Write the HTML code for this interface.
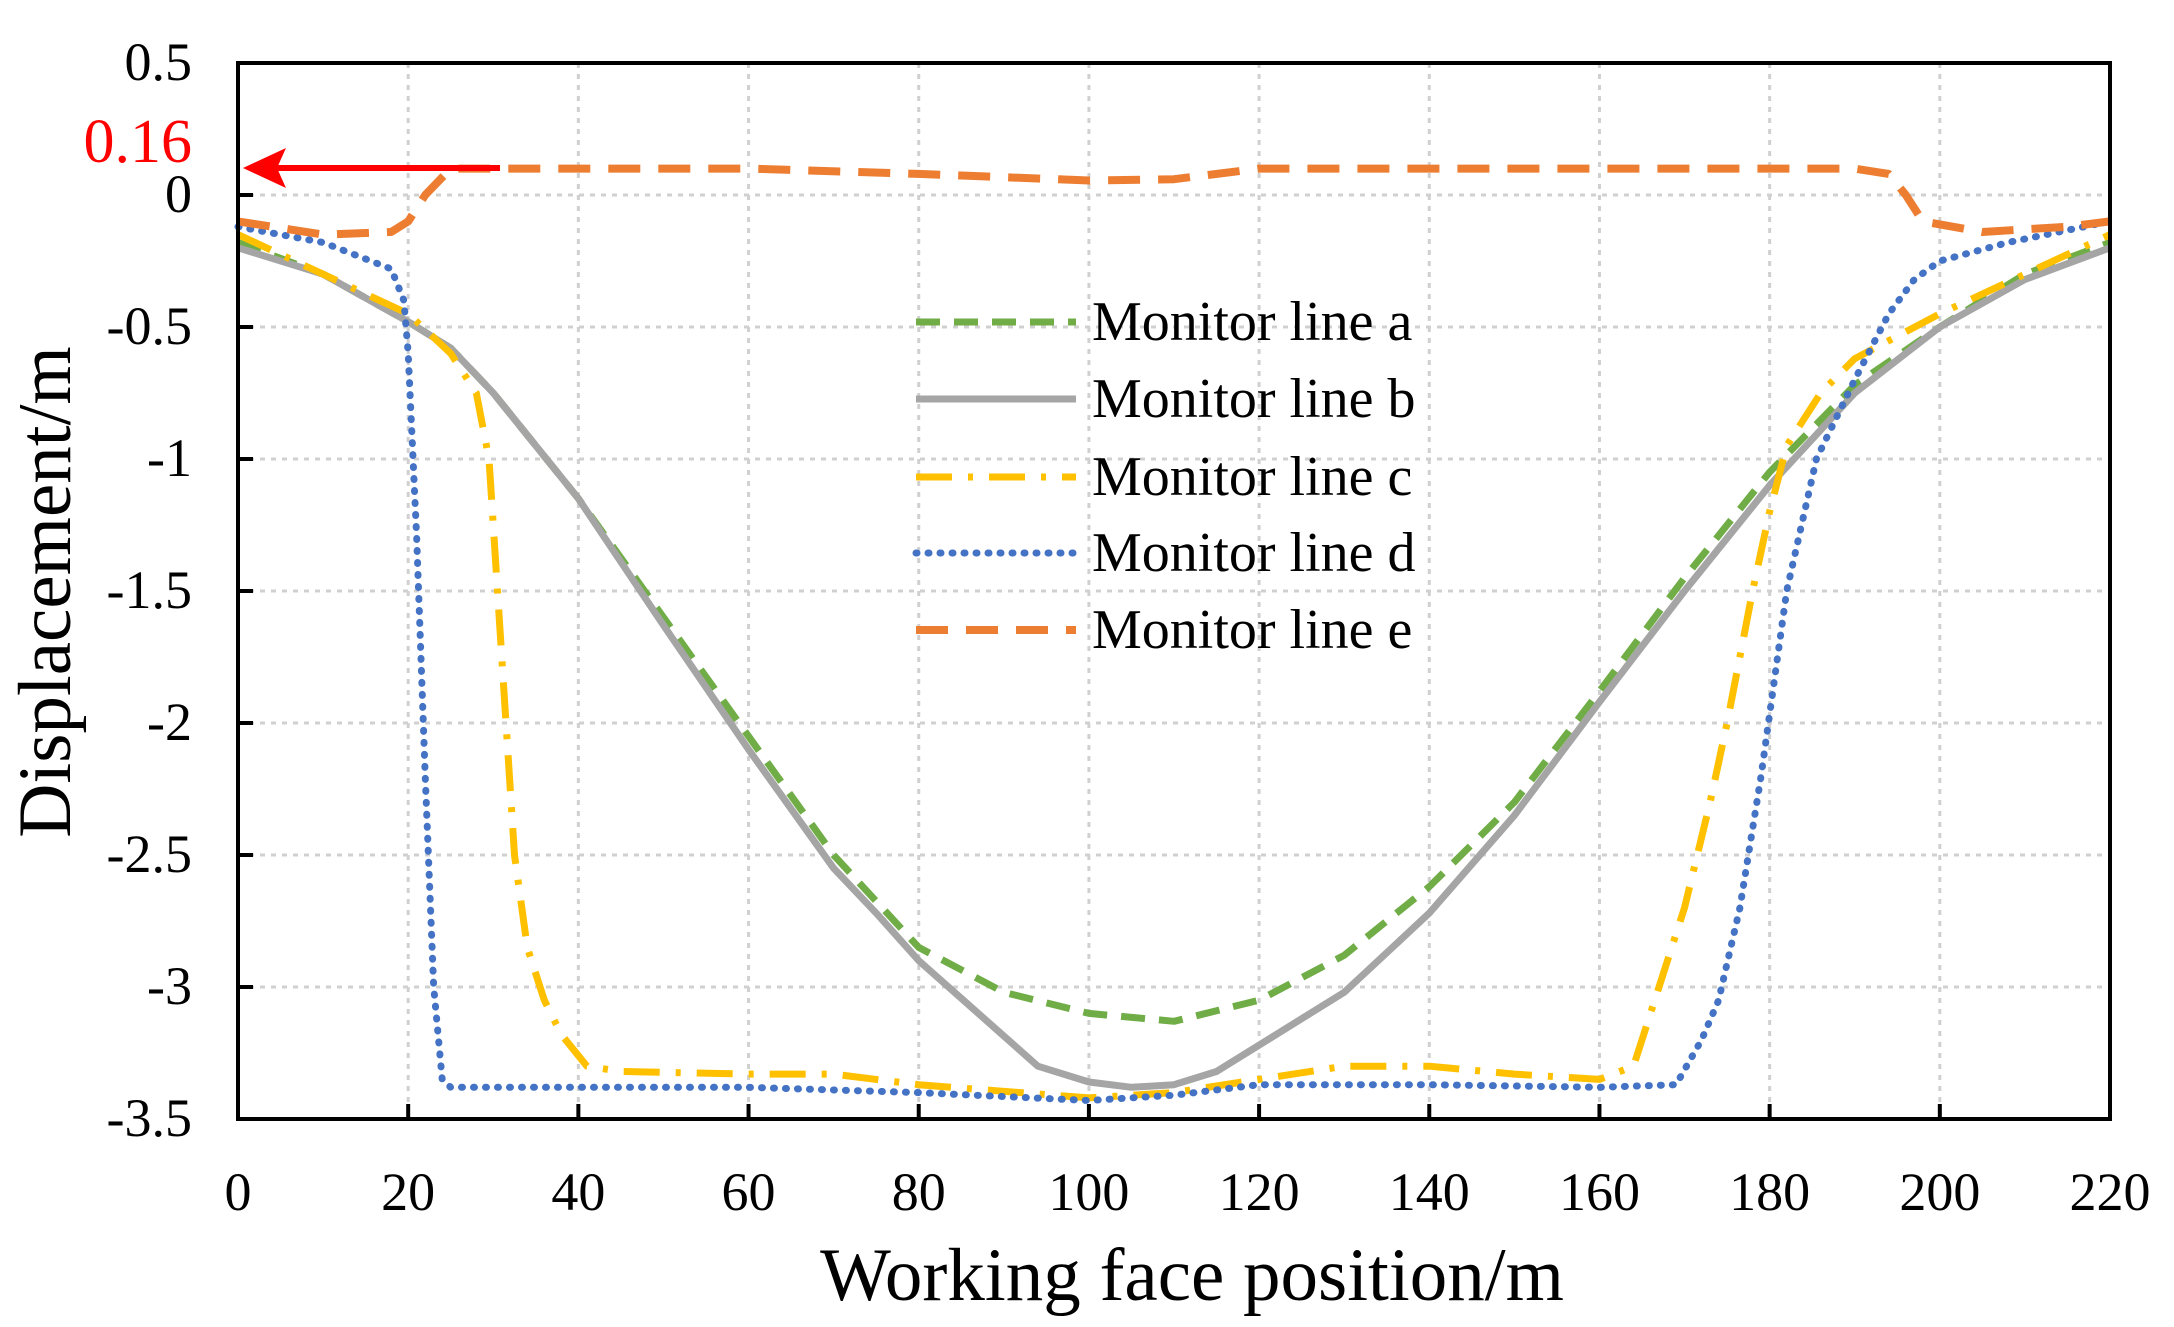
<!DOCTYPE html>
<html><head><meta charset="utf-8"><style>
html,body{margin:0;padding:0;background:#fff}
svg{display:block}
text{font-family:"Liberation Serif",serif}
</style></head><body>
<svg id="s" width="2174" height="1327" viewBox="0 0 2174 1327" xmlns="http://www.w3.org/2000/svg">
<g id="grid"></g>
<g id="series"></g>
<rect x="238" y="63" width="1872" height="1056" fill="none" stroke="#000" stroke-width="4"/>
<g id="ticks"></g>
<line x1="500" y1="168" x2="262" y2="168" stroke="#f00" stroke-width="6"/>
<polygon points="243,168 286,148 277,168 286,188" fill="#f00"/>
<text x="192" y="162" font-size="62" fill="#f00" text-anchor="end">0.16</text>
<g id="legend" font-size="56"></g>
<text x="1192" y="1300" font-size="75" text-anchor="middle">Working face position/m</text>
<text transform="translate(70,592) rotate(-90)" font-size="75" text-anchor="middle">Displacement/m</text>
</svg>
<script>
var L=238,R=2110,T=63,B=1119;
function X(v){return L+(R-L)*v/220}
function Y(v){return T+(0.5-v)*(B-T)/4}
var ns="http://www.w3.org/2000/svg";
function el(p,n,a,t){var e=document.createElementNS(ns,n);for(var k in a)e.setAttribute(k,a[k]);if(t!=null)e.textContent=t;document.getElementById(p).appendChild(e);return e}
for(var i=1;i<11;i++)el("grid","line",{x1:X(i*20),x2:X(i*20),y1:T,y2:B,stroke:"#d0d0d0","stroke-width":3,"stroke-dasharray":"5 6"});
for(var j=1;j<8;j++){var v=0.5-j*0.5;el("grid","line",{x1:L,x2:R,y1:Y(v),y2:Y(v),stroke:"#d0d0d0","stroke-width":3,"stroke-dasharray":"5 6"})}
for(var i=0;i<=11;i++){var x=X(i*20);if(i>0&&i<11)el("ticks","line",{x1:x,x2:x,y1:B,y2:B-15,stroke:"#000","stroke-width":4});el("ticks","text",{x:x,y:1210,"font-size":54,"text-anchor":"middle"},String(i*20))}
for(var j=0;j<=8;j++){var v=0.5-j*0.5;if(j>0&&j<8)el("ticks","line",{x1:L,x2:L+15,y1:Y(v),y2:Y(v),stroke:"#000","stroke-width":4});var s=(Math.round(v*10)/10).toString();el("ticks","text",{x:192,y:Y(v)+17,"font-size":54,"text-anchor":"end"},s)}
var S=[
{c:"#70ad47",w:7,d:"24 14",p:[[0,-0.18],[10,-0.3],[20,-0.48],[25,-0.58],[30,-0.75],[40,-1.15],[50,-1.6],[60,-2.05],[70,-2.5],[80,-2.85],[90,-3.02],[100,-3.1],[110,-3.13],[120,-3.05],[130,-2.88],[140,-2.62],[150,-2.3],[160,-1.88],[170,-1.45],[180,-1.05],[190,-0.72],[200,-0.5],[210,-0.3],[220,-0.18]]},
{c:"#a5a5a5",w:7,d:"",p:[[0,-0.2],[10,-0.3],[20,-0.48],[25,-0.58],[30,-0.75],[40,-1.15],[50,-1.63],[60,-2.1],[70,-2.55],[75,-2.72],[80,-2.9],[94,-3.3],[100,-3.36],[105,-3.38],[110,-3.37],[115,-3.32],[120,-3.22],[130,-3.02],[140,-2.72],[150,-2.35],[160,-1.92],[170,-1.5],[180,-1.1],[190,-0.75],[200,-0.5],[210,-0.32],[220,-0.2]]},
{c:"#ffc000",w:7,d:"36 16 5 16",p:[[0,-0.15],[10,-0.3],[20,-0.45],[25,-0.6],[28,-0.75],[29.5,-1.0],[30.5,-1.5],[31.5,-2.0],[32.5,-2.5],[34,-2.85],[36,-3.05],[38,-3.18],[41,-3.3],[45,-3.32],[60,-3.33],[70,-3.33],[80,-3.37],[100,-3.42],[110,-3.4],[120,-3.35],[130,-3.3],[140,-3.3],[150,-3.33],[160,-3.35],[164,-3.3],[167,-3.0],[170,-2.7],[173,-2.3],[175,-2.0],[178,-1.5],[180,-1.2],[182,-0.95],[186,-0.75],[190,-0.62],[200,-0.45],[210,-0.3],[220,-0.15]]},
{c:"#4472c4",w:7,d:"1 11",lc:"round",p:[[0,-0.12],[10,-0.18],[18,-0.28],[19.5,-0.4],[20,-0.6],[21,-1.3],[22,-2.2],[23,-3.0],[24,-3.35],[25,-3.38],[40,-3.38],[60,-3.38],[80,-3.4],[100,-3.43],[110,-3.41],[120,-3.37],[140,-3.37],[160,-3.38],[169,-3.37],[172,-3.2],[174,-3.05],[176.5,-2.7],[179,-2.2],[182,-1.5],[185.5,-1.0],[190,-0.7],[194,-0.45],[197,-0.32],[200,-0.25],[208,-0.18],[220,-0.1]]},
{c:"#ed7d31",w:8,d:"32 18",p:[[0,-0.1],[10,-0.15],[18,-0.14],[20,-0.1],[22,0],[25,0.1],[30,0.1],[60,0.1],[80,0.08],[100,0.055],[110,0.06],[120,0.1],[190,0.1],[194,0.08],[196,0],[198,-0.1],[205,-0.14],[215,-0.12],[220,-0.1]]}
];
var names=["a","b","c","d","e"],ly=[322,399,477,553,630];
S.forEach(function(s,i){
 var d=s.p.map(function(q,k){return (k?"L":"M")+X(q[0]).toFixed(1)+","+Y(q[1]).toFixed(1)}).join("");
 var a={d:d,fill:"none",stroke:s.c,"stroke-width":s.w,"stroke-linejoin":"round","stroke-linecap":s.lc||"butt"};
 if(s.d)a["stroke-dasharray"]=s.d;
 el("series","path",a);
 var b={x1:916,x2:1076,y1:ly[i],y2:ly[i],stroke:s.c,"stroke-width":s.w,"stroke-linecap":s.lc||"butt"};
 if(s.d)b["stroke-dasharray"]=s.d;
 el("legend","line",b);
 el("legend","text",{x:1092,y:ly[i]+18},"Monitor line "+names[i]);
});
</script>
</body></html>
